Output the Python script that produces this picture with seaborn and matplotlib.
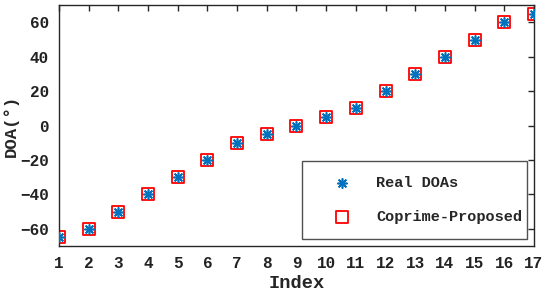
import matplotlib
matplotlib.use("Agg")
import matplotlib.pyplot as plt
import seaborn as sns
import pandas as pd

index = list(range(1, 18))
real_doa = [-65, -60, -50, -40, -30, -20, -10, -5, 0, 5, 10, 20, 30, 40, 50, 60, 65]
proposed_doa = [-65, -60, -50, -40, -30, -20, -10, -5, 0, 5, 10, 20, 30, 40, 50, 60, 65]
xticks = list(range(1, 18))
yticks = [-60, -40, -20, 0, 20, 40, 60]

sns.set_theme(style="white")
plt.rcParams['font.family'] = ['Liberation Mono', 'DejaVu Sans Mono']

df = pd.DataFrame({"Index": index, "Real": real_doa, "Proposed": proposed_doa})

fig = plt.figure(figsize=(5.5, 3.0), dpi=100)
ax = fig.add_axes([0.107, 0.18, 0.864, 0.803])

sns.scatterplot(data=df, x="Index", y="Real", ax=ax, marker=(8, 2, 0), s=45,
                color="#0072BD", linewidth=1.2, edgecolor="#0072BD", label="Real DOAs", zorder=3)
sns.scatterplot(data=df, x="Index", y="Proposed", ax=ax, marker="s", s=75,
                facecolor="none", edgecolor="red", linewidth=1.3, label="Coprime-Proposed", zorder=2)

ax.set_xlim(1, 17)
ax.set_ylim(-70, 70)
ax.set_xticks(xticks)
ax.set_yticks(yticks)
ax.set_xticklabels([str(t) for t in xticks], fontsize=11.5, fontweight="bold", color="#222222")
ax.set_yticklabels([f"\u2212{abs(t)}" if t < 0 else str(t) for t in yticks], fontsize=11.5,
                   fontweight="bold", color="#222222")
ax.set_xlabel("Index", fontsize=13.5, fontweight="bold", labelpad=3)
ax.set_ylabel("DOA(°)", fontsize=12.5, fontweight="bold", labelpad=1)
ax.tick_params(direction="in", length=4, width=1, top=True, right=True, color="#262626", pad=7)
for s in ax.spines.values():
    s.set_visible(True)
    s.set_color("#262626")
    s.set_linewidth(1)

leg = ax.legend(loc="lower left", bbox_to_anchor=(0.512, 0.029, 0.473, 0.34), mode="expand",
                frameon=True, fancybox=False, edgecolor="#262626",
                borderaxespad=0, labelspacing=1.3, handletextpad=0.65, borderpad=1.0,
                handlelength=3.2, markerscale=1.0,
                prop={"family": "Liberation Mono", "weight": "bold", "size": 11})
leg.get_frame().set_linewidth(1)

fig.savefig("out.png", dpi=100)
